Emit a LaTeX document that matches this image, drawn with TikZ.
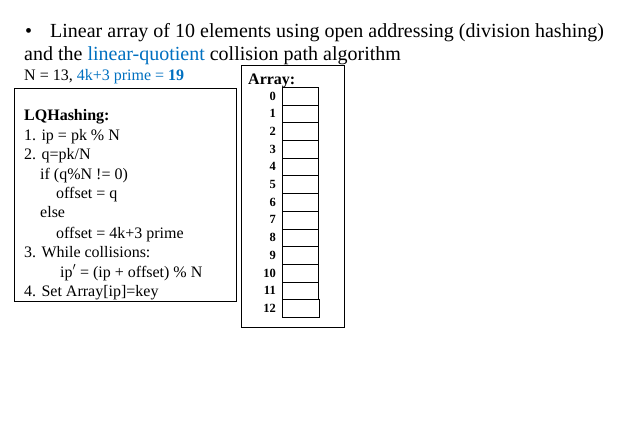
\documentclass[tikz,border=0pt]{standalone}
\usepackage{fontspec}
\setmainfont{Liberation Serif}
\definecolor{lblue}{RGB}{0,112,192}
\begin{document}
\begin{tikzpicture}[x=1pt,y=-1pt,
  txt/.style={anchor=base west,inner sep=0pt,font=\fontsize{16}{18}\selectfont},
  cell/.style={draw,minimum width=36pt,minimum height=17.7pt,inner sep=0pt,anchor=north west},
  idx/.style={anchor=east,inner sep=0pt,font=\bfseries\fontsize{12.5}{14}\selectfont}]
\useasboundingbox (0,0) rectangle (643,433);
\node[anchor=base west,inner sep=0pt,font=\fontsize{20}{22}\selectfont] (b) at (25,38) {\textbullet};
\node[anchor=base west,inner sep=0pt,font=\fontsize{20}{22}\selectfont] (t1) at (50,38) {Linear array of 10 elements using open addressing (division hashing)};
\node[anchor=base west,inner sep=0pt,font=\fontsize{20}{22}\selectfont] (t2) at (24,61) {and the \textcolor{lblue}{linear-quotient} collision path algorithm};
\node[anchor=base west,inner sep=0pt,font=\fontsize{16}{18}\selectfont] (t3) at (24,81) {N = 13, \textcolor{lblue}{4k+3 prime = \textbf{19}}};
\node[draw,anchor=north west,minimum width=222pt,minimum height=213pt] (box) at (14,88) {};
\node[txt,font=\bfseries\fontsize{16}{18}\selectfont] (h) at (24,121) {LQHashing:};
\node[txt] (l1) at (24,141) {1. ip = pk \% N};
\node[txt] (l2) at (24,160) {2. q=pk/N};
\node[txt] (l3) at (40,180) {if (q\%N != 0)};
\node[txt] (l4) at (56,199) {offset = q};
\node[txt] (l5) at (40,218) {else};
\node[txt] (l6) at (56,238) {offset = 4k+3 prime};
\node[txt] (l7) at (24,257) {3. While collisions:};
\node[txt] (l8) at (60,277) {ip$'$ = (ip + offset) \% N};
\node[txt] (l9) at (24,296) {4. Set Array[ip]=key};
\node[draw,anchor=north west,minimum width=103pt,minimum height=262pt] (arr) at (241,65) {};
\node[anchor=base west,inner sep=0pt,font=\bfseries\fontsize{16}{18}\selectfont] (at) at (248,85) {Array:};
\foreach \i in {0,...,11}{
  \node[cell] (c\i) at (282,{87+17.7*\i}) {};
  \node[idx] (n\i) at (276,{96+17.7*\i}) {\i};
}
\node[cell,minimum width=37pt] (c12) at (282,{87+17.7*12}) {};
\node[idx] (n12) at (276,{96+17.7*12}) {12};
\end{tikzpicture}
\end{document}
